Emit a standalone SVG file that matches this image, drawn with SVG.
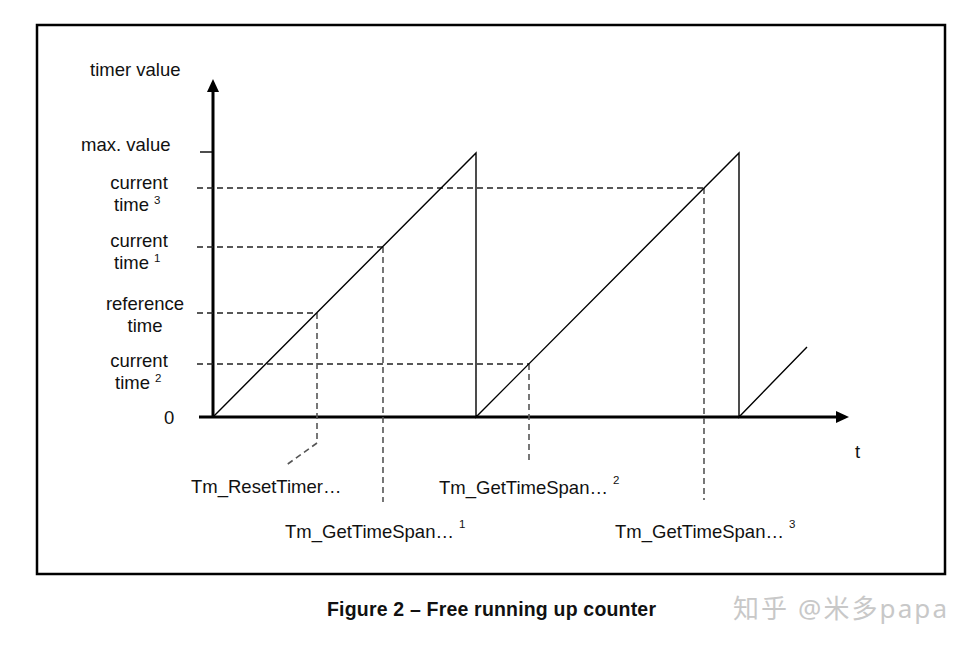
<svg xmlns="http://www.w3.org/2000/svg" width="976" height="652" viewBox="0 0 976 652">
<style>
text{font-family:"Liberation Sans",Arial,sans-serif;font-size:18.5px;fill:#111}
.sup{font-size:11.5px}
.c{text-anchor:middle}
.saw{stroke:#000;stroke-width:1.4;fill:none}
.dh{stroke:#222;stroke-width:1.4;stroke-dasharray:6,4;fill:none}
.dv{stroke:#555;stroke-width:1.6;stroke-dasharray:6,4;fill:none}
.axis{stroke:#000;stroke-width:3;fill:none}
</style>
<rect width="976" height="652" fill="#fff"/>
<rect x="37" y="25" width="908" height="549" fill="none" stroke="#000" stroke-width="2.5"/>
<g id="axes">
<path class="axis" d="M213,418 V90"/>
<polygon points="213,79 207,92 219,92" fill="#000"/>
<path class="axis" d="M199,417 H837"/>
<polygon points="849,417 836,411 836,423" fill="#000"/>
<path d="M200,152 H213" stroke="#000" stroke-width="1.4"/>
</g>
<g id="connectors">
<path class="dh" d="M197,188 H704"/>
<path class="dh" d="M197,247 H383"/>
<path class="dh" d="M197,313 H317"/>
<path class="dh" d="M197,364 H529"/>
<path class="dv" d="M317,313 V443 L285,466"/>
<path class="dv" d="M383,247 V502"/>
<path class="dv" d="M529,364 V464"/>
<path class="dv" d="M704,188 V500"/>
</g>
<g id="sawtooth">
<path class="saw" d="M213,417 L476,153 V417 L739,153 V417 L807,347"/>
</g>
<g id="labels">
<text x="90" y="76">timer value</text>
<text x="81" y="151">max. value</text>
<text class="c" x="139" y="189">current</text>
<text x="114" y="211">time <tspan class="sup" dy="-7">3</tspan></text>
<text class="c" x="139" y="247">current</text>
<text x="114" y="269">time <tspan class="sup" dy="-7">1</tspan></text>
<text class="c" x="145" y="310">reference</text>
<text class="c" x="145" y="332">time</text>
<text class="c" x="139" y="367">current</text>
<text x="115" y="389">time <tspan class="sup" dy="-7">2</tspan></text>
<text x="164" y="424">0</text>
<text x="855" y="458">t</text>
<text x="191" y="493">Tm_ResetTimer…</text>
<text x="285" y="538">Tm_GetTimeSpan… <tspan class="sup" dy="-10">1</tspan></text>
<text x="439" y="494">Tm_GetTimeSpan… <tspan class="sup" dy="-10">2</tspan></text>
<text x="615" y="538">Tm_GetTimeSpan… <tspan class="sup" dy="-10">3</tspan></text>
</g>
<text x="327" y="616" style="font-weight:bold;font-size:19.5px" textLength="329">Figure 2 – Free running up counter</text>
<text x="733" y="618" textLength="214" style="font-family:'Noto Sans','Noto Sans CJK SC',sans-serif;font-size:26px;fill:#c8c8c8">知乎 @米多papa</text>
</svg>
